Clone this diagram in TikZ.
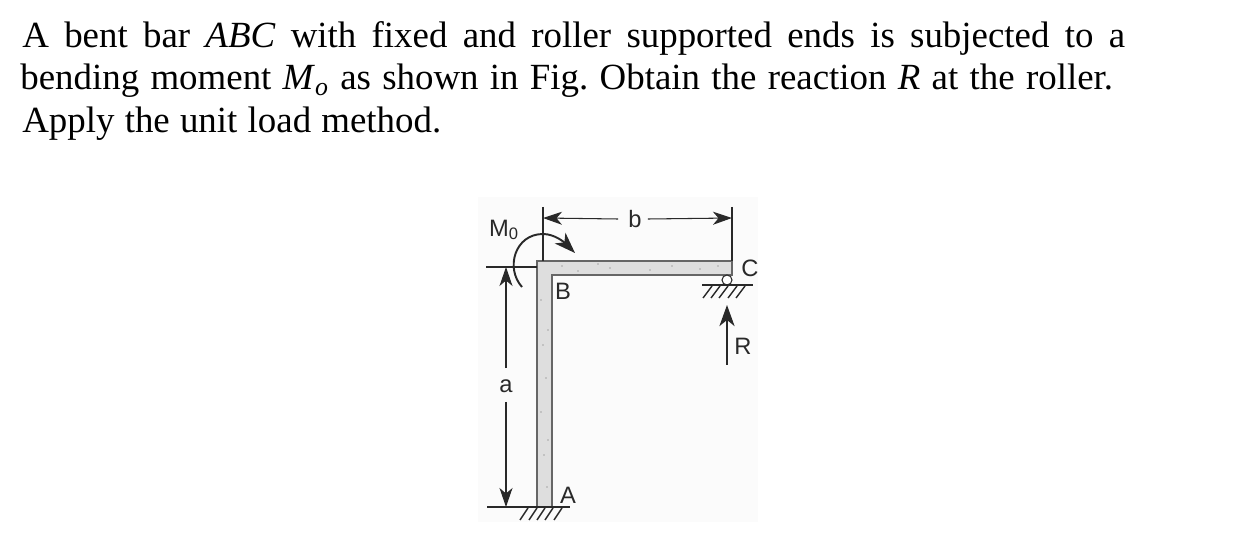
\documentclass[tikz,border=0pt]{standalone}
\usepackage{fontspec}
\setmainfont{Liberation Serif}
\newfontfamily\figfont{Liberation Sans}
\usetikzlibrary{arrows.meta}
\definecolor{barfill}{gray}{0.87}
\definecolor{barline}{gray}{0.4}
\definecolor{figink}{gray}{0.16}
\definecolor{figback}{gray}{0.985}
\frenchspacing
\tikzset{
  textline/.style={anchor=base west,inner sep=0pt,font=\fontsize{21}{24}\selectfont},
  figlabel/.style={inner sep=0pt,text=figink,font=\figfont\fontsize{13.5}{15}\selectfont},
  thinline/.style={draw=figink,line width=0.6pt},
  dimline/.style={thinline,-{Stealth[length=3.8mm,width=2.6mm,inset=1.1mm]}},
  loadline/.style={draw=figink,line width=1.6pt,-{Stealth[length=4.2mm,width=3mm,inset=1.2mm]}},
  groundline/.style={draw=figink,line width=0.8pt},
}
\begin{document}
\begin{tikzpicture}[x=0.02cm,y=-0.02cm]
    \useasboundingbox (0,0) rectangle (1242,557);
    \node[textline] (line1) at (22,48) {\makebox[22.06cm][s]{A bent bar \textit{ABC} with fixed and roller supported ends is subjected to a}};
    \node[textline] (line2) at (20,90) {\makebox[21.86cm][s]{bending moment \textit{M}\textsubscript{\textit{o}} as shown in Fig. Obtain the reaction \textit{R} at the roller.}};
    \node[textline] (line3) at (22,133) {\makebox[8.38cm][s]{Apply the unit load method.}};
    \fill[figback] (478,197) rectangle (758,522);
    \draw[draw=barline,fill=barfill,line width=1pt] (732,261)--(537,261)--(537,507)--(552,507)--(552,275)--(732,275)--cycle;
    \foreach \x/\y in {562/266,578/271,598/264,610/268,650/270,672/266,700/269,718/266,541/300,548/330,543/345,546/378,541/412,548/440,544/455,547/487}
    \fill[barline] (\x,\y) circle (0.7);
    \coordinate (extbl) at (543,207);
    \coordinate (extbb) at (543,261);
    \coordinate (extcl) at (732,207);
    \coordinate (extcb) at (732,261);
    \coordinate (extbw) at (486,267);
    \coordinate (extbe) at (537,267);
    \coordinate (dimbl) at (543,218);
    \coordinate (dimbr) at (732,218);
    \coordinate (dimat) at (506,267);
    \coordinate (dimab) at (506,507);
    \draw[thinline] (extbl)--(extbb);
    \draw[thinline] (extcl)--(extcb);
    \draw[thinline] (extbw)--(extbe);
    \node[figlabel] (labelb) at (635,219) {b};
    \node[figlabel] (labela) at (506,386) {a};
    \draw[dimline] (labelb.west)++(-10,0)--(dimbl);
    \draw[dimline] (labelb.east)++(6,0)--(dimbr);
    \draw[dimline] (labela.north)++(0,-11)--(dimat);
    \draw[dimline] (labela.south)++(0,9)--(dimab);
    \coordinate (grounda1) at (487,507);
    \coordinate (grounda2) at (570,507);
    \draw[groundline,line width=1pt] (grounda1)--(grounda2);
    \foreach \x in {528,537,545,553,562}
    \draw[groundline] (\x,508)--(\x-8,520);
    \node[draw=figink,fill=white,circle,line width=0.6pt,minimum size=0.2cm,inner sep=0pt] (roller) at (727,280) {};
    \coordinate (groundc1) at (702,285);
    \coordinate (groundc2) at (753,285);
    \draw[groundline] (groundc1)--(groundc2);
    \foreach \x in {712,720,728,737,745}
    \draw[groundline] (\x,286)--(\x-9,298);
    \coordinate (loadtail) at (727,365);
    \coordinate (loadtip) at (727,305);
    \draw[loadline] (loadtail)--(loadtip);
    \coordinate (momstart) at (522,287);
    \coordinate (momtop) at (543,234);
    \coordinate (momtip) at (575,253);
    \draw[loadline,line width=1.1pt] (momstart) .. controls (505,268) and (515,234) .. (momtop) .. controls (555,234) and (565,243) .. (momtip);
    \node[figlabel] (labelm) at (504,230) {M\textsubscript{0}};
    \node[figlabel] (labelB) at (563,291) {B};
    \node[figlabel] (labelC) at (750,268) {C};
    \node[figlabel] (labelR) at (743,346) {R};
    \node[figlabel] (labelA) at (568,495) {A};
  \end{tikzpicture}
\end{document}
